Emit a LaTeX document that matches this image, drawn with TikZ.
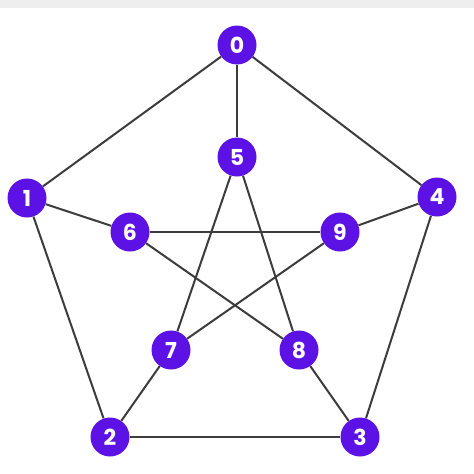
\documentclass[tikz,border=0pt]{standalone}
\usepackage{fontspec}
\setmainfont{Poppins}
\definecolor{nodepurple}{RGB}{92,18,228}
\definecolor{edgegray}{RGB}{60,60,60}
\definecolor{bargray}{RGB}{238,238,238}
\begin{document}
\begin{tikzpicture}[x=1pt,y=-1pt,
  vert/.style={circle,fill=nodepurple,text=white,minimum size=39pt,inner sep=0pt,font=\fontsize{22}{22}\selectfont\bfseries},
  edge/.style={draw=edgegray,line width=2pt}]
\useasboundingbox (0,0) rectangle (474,474);
\fill[white] (0,0) rectangle (474,474);
\fill[bargray] (0,0) rectangle (474,8);
\node[vert] (n0) at (237,45) {0};
\node[vert] (n1) at (27,198) {1};
\node[vert] (n4) at (437,197) {4};
\node[vert] (n2) at (110,437) {2};
\node[vert] (n3) at (360,437) {3};
\node[vert] (n5) at (237,157) {5};
\node[vert] (n6) at (130,232) {6};
\node[vert] (n9) at (340,232) {9};
\node[vert] (n7) at (171,350) {7};
\node[vert] (n8) at (299,350) {8};
\path[edge] (n0) -- (n1);
\path[edge] (n0) -- (n4);
\path[edge] (n0) -- (n5);
\path[edge] (n1) -- (n2);
\path[edge] (n1) -- (n6);
\path[edge] (n4) -- (n3);
\path[edge] (n4) -- (n9);
\path[edge] (n2) -- (n3);
\path[edge] (n2) -- (n7);
\path[edge] (n3) -- (n8);
\path[edge] (n5) -- (n7);
\path[edge] (n5) -- (n8);
\path[edge] (n6) -- (n9);
\path[edge] (n6) -- (n8);
\path[edge] (n9) -- (n7);
\end{tikzpicture}
\end{document}
